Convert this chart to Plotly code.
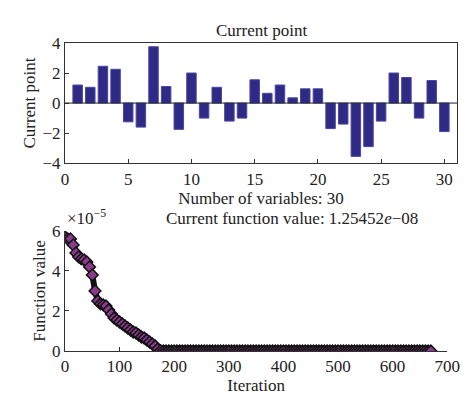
import plotly.graph_objects as go
from plotly.subplots import make_subplots

# top: current point
var_idx = list(range(1, 31))
var_vals = [1.2, 1.05, 2.45, 2.25, -1.25, -1.6, 3.75, 1.1, -1.75, 2.0,
            -1.0, 1.05, -1.2, -1.0, 1.55, 0.65, 1.2, 0.35, 0.95, 0.95,
            -1.7, -1.4, -3.55, -2.9, -1.2, 2.0, 1.7, -1.0, 1.5, -1.9]

# bottom: function value (x1e-5), read every 5 iterations
iters = list(range(0, 675, 5))
fvals_head = [5.7, 5.6, 5.6, 5.3, 4.9, 4.7, 4.6, 4.55, 4.45, 4.2,
              3.8, 3.0, 2.5, 2.35, 2.3, 2.25, 2.05, 1.85, 1.65, 1.55,
              1.45, 1.35, 1.25, 1.15, 1.05, 0.95, 0.9, 0.8, 0.7, 0.65,
              0.55, 0.45, 0.35, 0.25, 0.1, 0.02]
fvals = fvals_head + [0.0] * (len(iters) - len(fvals_head))

font = dict(family="Liberation Serif", size=17, color="#222")

fig = make_subplots(rows=2, cols=1, vertical_spacing=0.22)

fig.add_trace(go.Bar(x=var_idx, y=var_vals, marker=dict(color="#2e2a85", line=dict(color="#4a46a0", width=1)),
                     width=0.75), row=1, col=1)
fig.add_trace(go.Scatter(x=iters, y=fvals, mode="lines+markers",
                         line=dict(color="#111", width=6),
                         marker=dict(symbol="diamond", size=9, color="#8a3a8a",
                                     line=dict(color="#111", width=1.5))), row=2, col=1)

ax = dict(showgrid=False, zeroline=False, showline=True, linecolor="#333", linewidth=1,
          ticks="inside", ticklen=4, tickcolor="#333", tickfont=font)
fig.update_xaxes(ax, mirror=True, range=[0, 31], tickvals=[0, 5, 10, 15, 20, 25, 30],
                 title=dict(text="Number of variables: 30", font=font, standoff=0), row=1, col=1)
fig.update_yaxes(ax, mirror=True, range=[-4, 4], tickvals=[-4, -2, 0, 2, 4],
                 title=dict(text="Current point", font=font, standoff=2), row=1, col=1)
fig.update_xaxes(ax, range=[0, 700], tickvals=list(range(0, 800, 100)), domain=[0, 0.975],
                 title=dict(text="Iteration", font=font, standoff=0), row=2, col=1)
fig.update_yaxes(ax, range=[0, 6], tickvals=[0, 2, 4, 6],
                 title=dict(text="Function value", font=font, standoff=2), row=2, col=1)

fig.add_shape(type="line", xref="x domain", yref="y", x0=0, x1=1, y0=0, y1=0,
              line=dict(color="#222", width=1), row=1, col=1)

fig.update_layout(
    width=474, height=400, showlegend=False, bargap=0.25,
    plot_bgcolor="white", paper_bgcolor="white", font=font,
    margin=dict(l=57, r=19, t=35, b=57),
    annotations=[
        dict(text="Current point", x=0.5, y=1.0, xref="paper", yref="paper",
             yanchor="bottom", yshift=1, showarrow=False, font=font),
        dict(text="Current function value: 1.25452<i>e</i>−08", x=0.58, y=0.39, xref="paper", yref="paper",
             yanchor="bottom", yshift=1, showarrow=False, font=font),
        dict(text="×10<sup>−5</sup>", x=0.0, y=0.39, xref="paper", yref="paper",
             xanchor="left", yanchor="bottom", yshift=1, showarrow=False, font=font),
    ],
)

fig.write_html("out.html")
